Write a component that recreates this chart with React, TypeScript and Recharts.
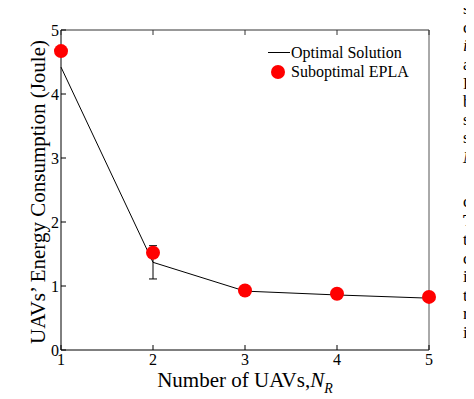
import { ComposedChart, ErrorBar, Label, Legend, Line, XAxis, YAxis } from "recharts";

const uavCounts = [1, 2, 3, 4, 5];
const optimalEnergy = [4.42, 1.37, 0.92, 0.86, 0.81];
const eplaEnergy = [4.67, 1.52, 0.93, 0.88, 0.83];
const optimalError: (number[] | null)[] = [null, [0.26, 0.26], null, null, null];
const xTicks = [1, 2, 3, 4, 5];
const yTicks = [0, 1, 2, 3, 4, 5];

const data = uavCounts.map((n, i) => ({
  n,
  optimal: optimalEnergy[i],
  epla: eplaEnergy[i],
  err: optimalError[i],
}));

const FONT = '"Liberation Serif", "Times New Roman", serif';
const TICK_LEN = 5;
const LABEL_GAP = 4;

// paper text cut off at the right edge of the figure
const sideText = [
  { t: "s", y: 6 }, { t: "c", y: 25 }, { t: "i", y: 43, i: true }, { t: "a", y: 62 },
  { t: "P", y: 81 }, { t: "b", y: 99 }, { t: "s", y: 117 }, { t: "s", y: 135 },
  { t: "N", y: 155, i: true }, { t: "c", y: 199 }, { t: "T", y: 218, b: true },
  { t: "t", y: 237 }, { t: "c", y: 256 }, { t: "i", y: 274 }, { t: "t", y: 293 },
  { t: "r", y: 311 }, { t: "i", y: 330 },
];

function BottomTick({ x, y, payload }: any) {
  const axisY = y - LABEL_GAP;
  return (
    <g>
      <line x1={x} x2={x} y1={axisY} y2={axisY - TICK_LEN} stroke="#000" />
      <text x={x} y={y} dy="0.71em" textAnchor="middle" fontSize={16} fontFamily={FONT} fill="#000">
        {payload.value}
      </text>
    </g>
  );
}

function LeftTick({ x, y, payload }: any) {
  const axisX = x + 2;
  return (
    <g>
      <line x1={axisX} x2={axisX + TICK_LEN} y1={y} y2={y} stroke="#000" />
      <text x={x} y={y} dy="0.35em" textAnchor="end" fontSize={16} fontFamily={FONT} fill="#000">
        {payload.value}
      </text>
    </g>
  );
}

function TopTick({ x, y }: any) {
  return <line x1={x} x2={x} y1={y} y2={y + TICK_LEN} stroke="#333" />;
}

function RightTick({ x, y }: any) {
  return <line x1={x} x2={x - TICK_LEN} y1={y} y2={y} stroke="#555" />;
}

function XTitle({ viewBox }: any) {
  const { x, y, width } = viewBox;
  return (
    <text x={x + width / 2} y={y + 37} textAnchor="middle" fontSize={21} fontFamily={FONT} fill="#000">
      Number of UAVs,
      <tspan fontStyle="italic">N</tspan>
      <tspan fontStyle="italic" fontSize={14} dy={6}>R</tspan>
    </text>
  );
}

function YTitle({ viewBox }: any) {
  const { x, y, height } = viewBox;
  const cx = x + 19;
  const cy = y + height / 2 + 2;
  return (
    <text
      x={cx}
      y={cy}
      transform={`rotate(-90 ${cx} ${cy})`}
      textAnchor="middle"
      fontSize={21}
      fontFamily={FONT}
      fill="#000"
    >
      UAVs’ Energy Consumption (Joule)
    </text>
  );
}

function LegendBox() {
  const row = { display: "flex", alignItems: "center", height: 19, whiteSpace: "nowrap" as const };
  return (
    <div style={{ fontFamily: FONT, fontSize: 16, color: "#000", lineHeight: "19px" }}>
      <div style={row}>
        <span style={{ display: "inline-block", width: 22, borderTop: "1px solid #000", marginRight: 1 }} />
        Optimal Solution
      </div>
      <div style={row}>
        <span
          style={{
            display: "inline-block",
            width: 14,
            height: 14,
            borderRadius: 7,
            background: "#ff0000",
            marginLeft: 3,
            marginRight: 6,
          }}
        />
        Suboptimal EPLA
      </div>
    </div>
  );
}

export default function App() {
  return (
    <div style={{ position: "relative", width: 466, height: 391 }}>
      <ComposedChart width={466} height={391} data={data} margin={{ top: 21, right: 44, bottom: 0, left: 18 }}>
        <XAxis
          dataKey="n"
          type="number"
          domain={[1, 5]}
          ticks={xTicks}
          tickSize={0}
          tickMargin={LABEL_GAP}
          tick={<BottomTick />}
          axisLine={{ stroke: "#000" }}
          height={49}
          interval={0}
        >
          <Label content={<XTitle />} />
        </XAxis>
        <XAxis
          xAxisId="top"
          orientation="top"
          dataKey="n"
          type="number"
          domain={[1, 5]}
          ticks={xTicks}
          tickSize={0}
          tickMargin={0}
          tick={<TopTick />}
          axisLine={{ stroke: "#333" }}
          height={1}
          interval={0}
        />
        <YAxis
          type="number"
          domain={[0, 5]}
          ticks={yTicks}
          tickSize={0}
          tickMargin={2}
          tick={<LeftTick />}
          axisLine={{ stroke: "#000" }}
          width={35}
          interval={0}
        >
          <Label content={<YTitle />} />
        </YAxis>
        <YAxis
          yAxisId="right"
          orientation="right"
          type="number"
          domain={[0, 5]}
          ticks={yTicks}
          tickSize={0}
          tickMargin={0}
          tick={<RightTick />}
          axisLine={{ stroke: "#555" }}
          width={1}
          interval={0}
        />
        <Legend
          layout="vertical"
          align="center"
          verticalAlign="middle"
          content={<LegendBox />}
          wrapperStyle={{ top: 35, left: 260, width: "auto" }}
        />
        <Line
          dataKey="optimal"
          name="Optimal Solution"
          stroke="#000"
          strokeWidth={1}
          dot={false}
          activeDot={false}
          isAnimationActive={false}
        >
          <ErrorBar dataKey="err" width={4} stroke="#000" strokeWidth={1} direction="y" />
        </Line>
        <Line
          dataKey="epla"
          name="Suboptimal EPLA"
          stroke="none"
          dot={{ r: 7, fill: "#ff0000", stroke: "none" }}
          activeDot={false}
          isAnimationActive={false}
        />
      </ComposedChart>
      <svg
        width={40}
        height={391}
        style={{ position: "absolute", left: 447, top: -8, overflow: "visible" }}
      >
        {sideText.map((s, i) => (
          <text
            key={i}
            x={8}
            y={s.y + 8}
            fontSize={17}
            fontFamily={FONT}
            fontStyle={s.i ? "italic" : "normal"}
            fontWeight={s.b ? "bold" : "normal"}
            fill="#000"
          >
            {s.t}
          </text>
        ))}
      </svg>
    </div>
  );
}
